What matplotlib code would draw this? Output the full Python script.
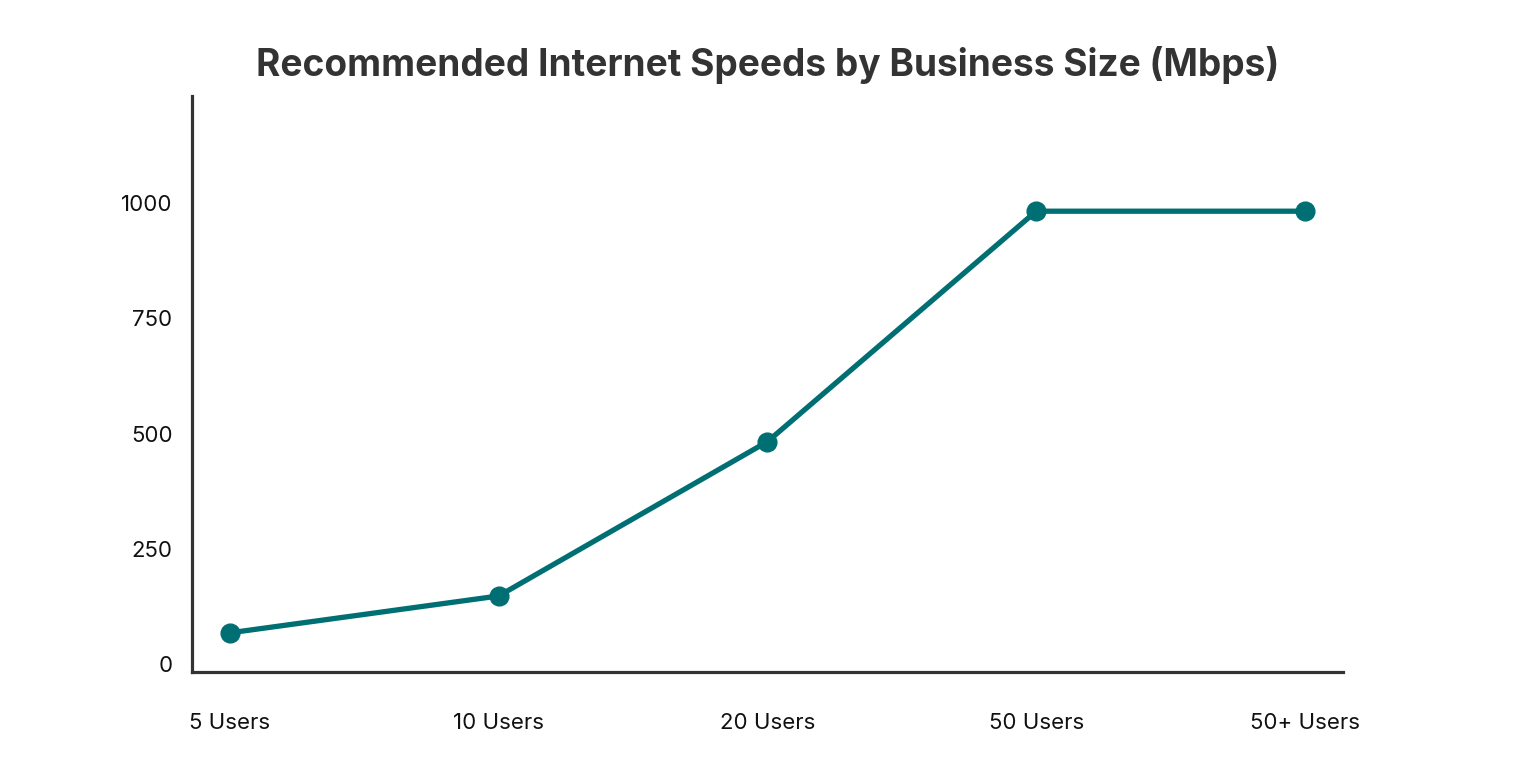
import matplotlib
matplotlib.use("Agg")
import matplotlib.pyplot as plt
import matplotlib.transforms as mtransforms

plt.rcParams['font.family'] = ['Inter', 'DejaVu Sans']

categories = ["5 Users", "10 Users", "20 Users", "50 Users", "50+ Users"]
speeds = [85, 165, 500, 1000, 1000]
y_ticks = [0, 250, 500, 750, 1000]

fig = plt.figure(figsize=(15.36, 7.68), dpi=100)
ax = fig.add_axes([0.125, 0.125, 0.7493, 0.75])

ax.plot(range(len(categories)), speeds, color="#006f73", linewidth=3.8,
        marker="o", markersize=13.5, solid_capstyle="round")

ax.set_xlim(-0.141, 4.141)
ax.set_ylim(0, 1250)
ax.set_xticks(range(len(categories)))
ax.set_xticklabels(categories)
ax.set_yticks(y_ticks)
ax.tick_params(axis="both", length=0, labelsize=16, colors="#111111")
ax.tick_params(axis="x", pad=29.5)
ax.tick_params(axis="y", pad=14)

# labels in the reference sit a little above their tick values
offset = mtransforms.ScaledTranslation(0, 8 / 100, fig.dpi_scale_trans)
for lbl in ax.get_yticklabels():
    lbl.set_transform(lbl.get_transform() + offset)

for side in ["top", "right"]:
    ax.spines[side].set_visible(False)
for side in ["left", "bottom"]:
    ax.spines[side].set_color("#333333")
    ax.spines[side].set_linewidth(2.3)

fig.text(0.5, 0.915, "Recommended Internet Speeds by Business Size (Mbps)",
         ha="center", va="center", fontsize=26.7, fontweight="bold", color="#333333")

fig.savefig("out.png", dpi=100)
